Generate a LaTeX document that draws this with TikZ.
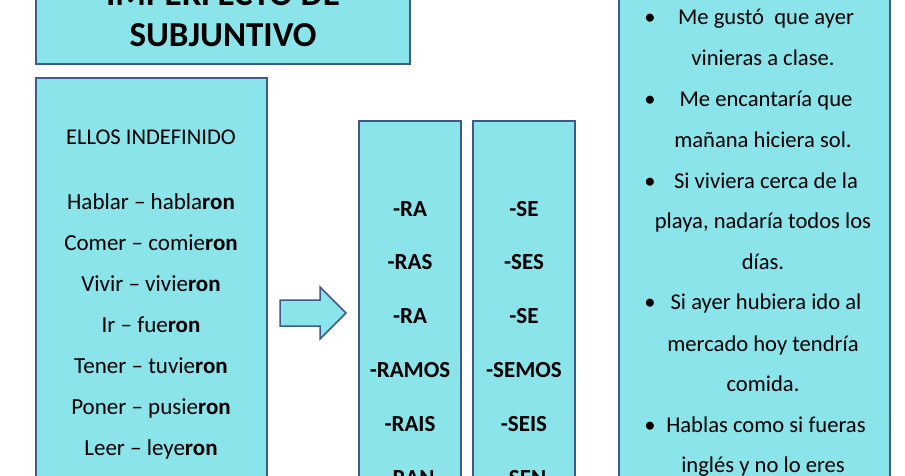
\documentclass[tikz,border=0pt]{standalone}
\usepackage{fontspec}
\setmainfont{Carlito}
\definecolor{fillc}{HTML}{8BE4EA}
\definecolor{linec}{HTML}{3C5A8C}
\begin{document}
\begin{tikzpicture}[x=1pt,y=-1pt,
  boxs/.style={draw=linec,line width=2pt,fill=fillc},
  txt/.style={font=\fontsize{23}{23}\selectfont,anchor=base},
  btxt/.style={font=\fontsize{23}{23}\selectfont\bfseries,anchor=base},
  rtxt/.style={font=\fontsize{22.6}{22.6}\selectfont,anchor=base}]
\useasboundingbox (0,0) rectangle (905,475);
\clip (0,0) rectangle (905,475);
\fill[white] (0,0) rectangle (905,475);
% title
\draw[boxs] (36,-20) rectangle (410,64);
\node[font=\fontsize{35}{35}\selectfont\bfseries,anchor=base] (t1) at (223,5) {IMPERFECTO DE};
\node[font=\fontsize{35}{35}\selectfont\bfseries,anchor=base] (t2) at (223,46) {SUBJUNTIVO};
% left box
\draw[boxs] (36,78) rectangle (267,500);
\node[txt,font=\fontsize{22.5}{22.5}\selectfont] (l0) at (151,144) {ELLOS INDEFINIDO};
\node[txt] (l1) at (151,209) {Hablar – habla\textbf{ron}};
\node[txt] (l2) at (151,250) {Comer – comie\textbf{ron}};
\node[txt] (l3) at (151,291) {Vivir – vivie\textbf{ron}};
\node[txt] (l4) at (151,332) {Ir – fue\textbf{ron}};
\node[txt] (l5) at (151,373) {Tener – tuvie\textbf{ron}};
\node[txt] (l6) at (151,414) {Poner – pusie\textbf{ron}};
\node[txt] (l7) at (151,455) {Leer – leye\textbf{ron}};
% arrow
\draw[boxs,line width=1.5pt] (280,300) -- (320,300) -- (320,287) -- (346,313) -- (320,339) -- (320,326) -- (280,326) -- cycle;
% RA / SE boxes
\draw[boxs] (359,121) rectangle (461,500);
\draw[boxs] (473,121) rectangle (575,500);
\foreach \a/\b/\y [count=\i] in {-RA/-SE/216,-RAS/-SES/269,-RA/-SE/323,-RAMOS/-SEMOS/377,-RAIS/-SEIS/431,-RAN/-SEN/485}{
  \node[btxt] (ra\i) at (410,\y) {\a};
  \node[btxt] (se\i) at (524,\y) {\b};
}
% right box
\draw[boxs] (619,-20) rectangle (890,500);
\foreach \t/\y/\b [count=\i] in {Me gustó\ \ que ayer/24/1,vinieras a clase./65/0,Me encantaría que/106/1,mañana hiciera sol./147/0,Si viviera cerca de la/188/1,{playa, nadaría todos los}/228/0,días./269/0,Si ayer hubiera ido al/309/1,mercado hoy tendría/351/0,comida./391/0,Hablas como si fueras/432/1,inglés y no lo eres/472/0}{
  \ifnum\b=1
    \node[rtxt] (r\i) at (766,\y) {\t};
    \node[rtxt] (b\i) at (650,\y) {•};
  \else
    \node[rtxt] (r\i) at (763,\y) {\t};
  \fi
}
\end{tikzpicture}
\end{document}
